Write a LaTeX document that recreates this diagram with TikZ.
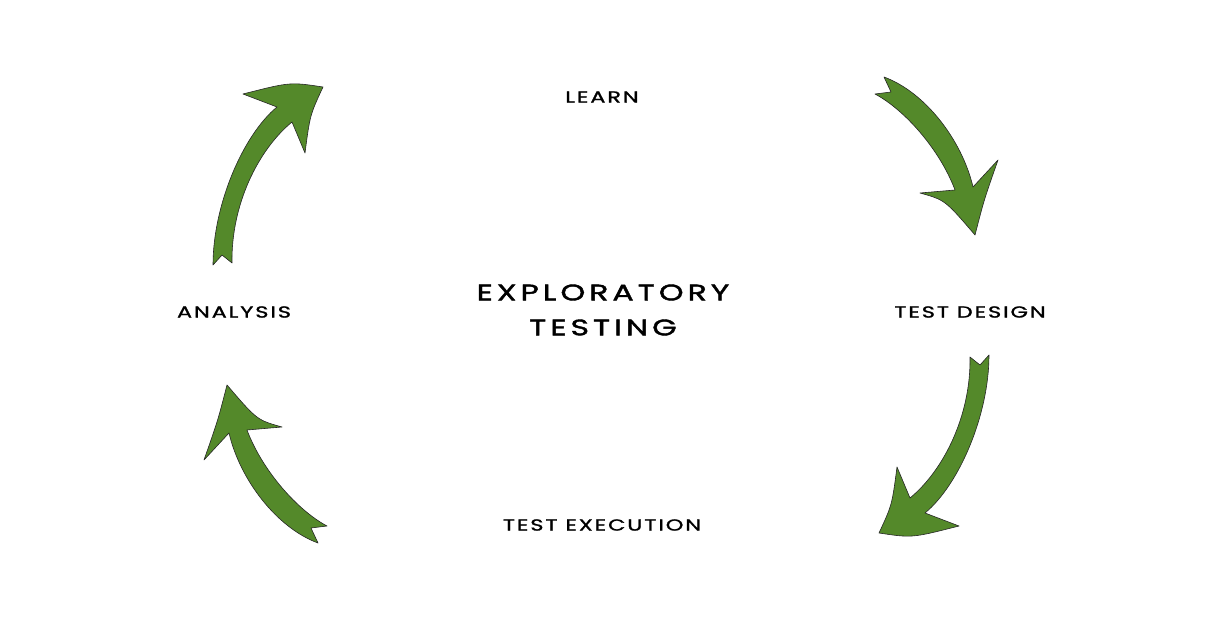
\documentclass[tikz,border=0pt]{standalone}
\usepackage{fontspec}
\setmainfont{Poppins}
\newfontfamily\labelfont{Poppins}[FakeStretch=1.4, LetterSpace=12, FakeBold=1.5]
\newfontfamily\titlefont{Poppins}[FakeStretch=1.4, LetterSpace=18, FakeBold=1.8]
\definecolor{arrowgreen}{RGB}{84,137,42}
\tikzset{
  looparrow/.style={fill=arrowgreen, draw=black!85, line width=0.6pt, line join=round},
  steplabel/.style={font=\labelfont\fontsize{16}{18}\selectfont, inner sep=0pt},
  titlelabel/.style={font=\titlefont\fontsize{22.5}{35}\selectfont, align=center, inner sep=0pt}
}
% the two arrow outlines, in pixel coordinates
\newcommand{\arrowup}{\filldraw[looparrow] (213,265) -- (222,255) -- (232,263)
  .. controls (231,205) and (258,150) .. (292,122) -- (305,153)
  .. controls (310,115) .. (323,87)
  .. controls (290,82) .. (243,94) -- (277,107)
  .. controls (243,135) and (213,205) .. (213,265) -- cycle;}
\newcommand{\arrowdown}{\filldraw[looparrow] (884,77) -- (891,92) -- (875,94)
  .. controls (905,110) and (940,150) .. (955,190) -- (920,193)
  .. controls (945,200) .. (975,235)
  .. controls (984,200) .. (998,160) -- (973,187)
  .. controls (962,140) and (925,92) .. (884,77) -- cycle;}
\begin{document}
\begin{tikzpicture}[x=1pt, y=-1pt]
  \useasboundingbox (0,0) rectangle (1205,620);
  \node [titlelabel] (title) at (603,310) {EXPLORATORY\\TESTING};
  \node [steplabel] (learn) at (602,97) {LEARN};
  \node [steplabel] (design) at (970,312) {TEST DESIGN};
  \node [steplabel] (execution) at (602,525) {TEST EXECUTION};
  \node [steplabel] (analysis) at (234,312) {ANALYSIS};
  \arrowup
  \arrowdown
  \begin{scope}[rotate around={180:(601,310)}]
    \arrowup
    \arrowdown
  \end{scope}
\end{tikzpicture}
\end{document}
